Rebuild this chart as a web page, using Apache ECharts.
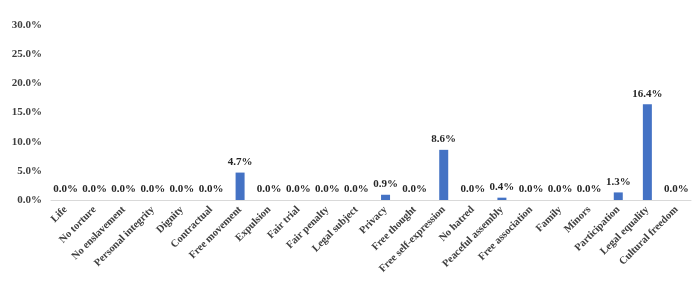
<!DOCTYPE html>
<html>
<head>
<meta charset="utf-8">
<script src="https://cdn.jsdelivr.net/npm/echarts@6/dist/echarts.min.js"></script>
<style>
  html, body { margin: 0; padding: 0; background: #fff; }
  #chart { width: 699px; height: 285px; }
</style>
</head>
<body>
<div id="chart"></div>
<script>
const categories = ["Life", "No torture", "No enslavement", "Personal integrity", "Dignity", "Contractual",
  "Free movement", "Expulsion", "Fair trial", "Fair penalty", "Legal subject", "Privacy", "Free thought",
  "Free self-expression", "No hatred", "Peaceful assembly", "Free association", "Family", "Minors",
  "Participation", "Legal equality", "Cultural freedom"];
const values = [0, 0, 0, 0, 0, 0, 4.7, 0, 0, 0, 0, 0.9, 0, 8.6, 0, 0.4, 0, 0, 0, 1.3, 16.4, 0];
const yTicks = [0, 5, 10, 15, 20, 25, 30];

const font = "'Liberation Serif', 'Times New Roman', serif";
const chart = echarts.init(document.getElementById("chart"));

chart.setOption({
  animation: false,
  grid: { left: 51, right: 8, top: 25, bottom: 85 },
  xAxis: {
    type: "category",
    data: categories,
    axisLine: { lineStyle: { color: "#d9d9d9" } },
    axisTick: { show: false },
    axisLabel: {
      rotate: 45,
      interval: 0,
      margin: 8,
      color: "#404040",
      fontFamily: font,
      fontWeight: "bold",
      fontSize: 10.5
    }
  },
  yAxis: {
    type: "value",
    min: yTicks[0],
    max: yTicks[yTicks.length - 1],
    interval: 5,
    splitLine: { show: false },
    axisLine: { show: false },
    axisTick: { show: false },
    axisLabel: {
      margin: 9,
      color: "#404040",
      fontFamily: font,
      fontWeight: "bold",
      fontSize: 11,
      formatter: (v) => v.toFixed(1) + "%"
    }
  },
  series: [{
    type: "bar",
    data: values,
    barWidth: 9,
    itemStyle: { color: "#4472C4" },
    label: {
      show: true,
      position: "top",
      distance: 5,
      color: "#262626",
      fontFamily: font,
      fontWeight: "bold",
      fontSize: 11,
      formatter: (p) => p.value.toFixed(1) + "%"
    }
  }]
});
</script>
</body>
</html>
